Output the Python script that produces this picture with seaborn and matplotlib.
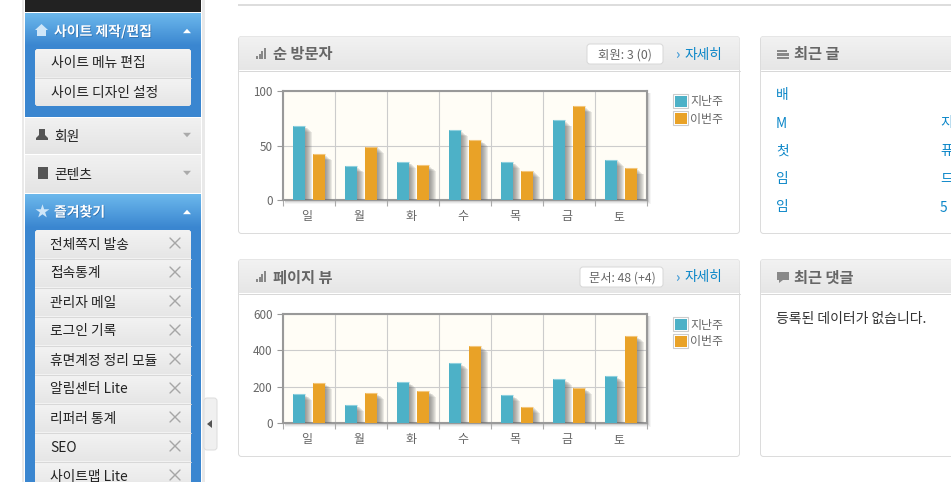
import numpy as np
import pandas as pd
import matplotlib
matplotlib.use('Agg')
import matplotlib.pyplot as plt
import matplotlib.patheffects as pe
from matplotlib.patches import Rectangle, FancyBboxPatch, Polygon
from matplotlib.transforms import ScaledTranslation
import seaborn as sns

days = ['일', '월', '화', '수', '목', '금', '토']
series_names = ['지난주', '이번주']
visitors_last = [68, 31, 35, 64, 35, 73, 37]
visitors_this = [42, 49, 32, 55, 27, 86, 29]
views_last = [160, 100, 226, 330, 154, 242, 259]
views_this = [220, 165, 176, 424, 90, 193, 479]
visitors_ticks = [0, 50, 100]
views_ticks = [0, 200, 400, 600]

site_menu = ['사이트 메뉴 편집', '사이트 디자인 설정']
favorites = ['전체쪽지 발송', '접속통계', '관리자 메일', '로그인 기록', '휴면계정 정리 모듈',
             '알림센터 Lite', '리퍼러 통계', 'SEO', '사이트맵 Lite']
recent_left = ['배', 'M', '첫', '임', '임']
recent_right = ['', '지', '퓨', '드', '5']

sns.set_theme(style='white')
plt.rcParams['font.family'] = ['Noto Sans CJK KR', 'DejaVu Sans']

W, H = 951, 482
fig = plt.figure(figsize=(W / 100, H / 100), dpi=100, facecolor='white')
page = fig.add_axes([0, 0, 1, 1])
page.set_xlim(0, W)
page.set_ylim(H, 0)
page.axis('off')

BLUE = '#3a86d0'
LINK = '#0a86c8'
GREY_TEXT = '#666666'
colors = {'지난주': '#4db1c7', '이번주': '#e9a227'}
tops = {'지난주': '#8fd0de', '이번주': '#f3c67a'}


def grad(x0, y0, x1, y1, top, bottom, clip=None, z=1):
    c0 = np.array(matplotlib.colors.to_rgb(top))
    c1 = np.array(matplotlib.colors.to_rgb(bottom))
    t = np.linspace(0, 1, 64)[:, None, None]
    img = c0[None, None, :] * (1 - t) + c1[None, None, :] * t
    im = page.imshow(img, extent=[x0, x1, y1, y0], aspect='auto', zorder=z, interpolation='bilinear')
    if clip is not None:
        im.set_clip_path(clip)
    page.set_xlim(0, W)
    page.set_ylim(H, 0)


def box(x0, y0, x1, y1, fc='white', ec='none', r=3, lw=0.72, z=1):
    p = FancyBboxPatch((x0 + r, y0 + r), x1 - x0 - 2 * r, y1 - y0 - 2 * r,
                       boxstyle='round,pad=%d,rounding_size=%d' % (r, r),
                       fc=fc, ec=ec, lw=lw, zorder=z, mutation_aspect=1)
    page.add_patch(p)
    return p


def txt(x, y, s, size=9.9, color='#222222', weight='normal', ha='left', z=6, shadow=None):
    t = page.text(x, y, s, fontsize=size, color=color, fontweight=weight, ha=ha, va='center_baseline', zorder=z)
    if shadow:
        t.set_path_effects([pe.withSimplePatchShadow(offset=(0.5, -0.5), shadow_rgbFace=shadow, alpha=1)])
    return t


def cross(x, y, r=5, color='#a6a6a6'):
    page.plot([x - r, x + r], [y - r, y + r], color=color, lw=1, zorder=6)
    page.plot([x - r, x + r], [y + r, y - r], color=color, lw=1, zorder=6)


def caret(x, y, up=True, color='white'):
    d = -4.4 if up else 4.4
    page.add_patch(Polygon([(x - 4, y - d / 2), (x + 4, y - d / 2), (x, y + d / 2)], fc=color, ec='none', zorder=6))


def bars_icon(x, y):
    for i, h in enumerate([3, 5, 8, 11]):
        page.add_patch(Rectangle((x + i * 2.7, y - h), 1.8, h, fc='#888888', ec='none', zorder=6))


# sidebar
page.add_patch(Rectangle((22, 0), 183, H, fc='#e9e9e9', ec='none', zorder=0))
page.add_patch(Rectangle((24, 0), 178, H, fc='white', ec='none', zorder=0))
page.add_patch(Rectangle((25, 0), 176, 12, fc='#222222', ec='none', zorder=1))

page.add_patch(Rectangle((25, 13), 176, 104, fc=BLUE, ec='none', zorder=1))
grad(25, 13, 201, 46, '#6cb8ec', BLUE, z=1.5)
txt(54, 30, '사이트 제작/편집', size=10, color='white', weight='bold', shadow='#2a6aa8')
page.add_patch(Polygon([(35, 30), (41.5, 24), (48, 30), (46, 30), (46, 36), (37, 36), (37, 30)], fc='#cfe6f8', ec='none', zorder=6))
caret(187, 31)

clip = box(35, 49, 191, 106, fc='#eeeeee', z=2)
grad(35, 49, 191, 77, '#f3f3f3', '#e6e6e6', clip=clip, z=3)
grad(35, 78, 191, 106, '#f3f3f3', '#e6e6e6', clip=clip, z=3)
page.plot([35, 191], [77.5, 77.5], color='#d8d8d8', lw=0.72, zorder=4)
for i, label in enumerate(site_menu):
    txt(51, 62 + i * 29, label)

grad(25, 118, 201, 154, '#f1f1f1', '#e4e4e4')
grad(25, 155, 201, 193, '#f1f1f1', '#e4e4e4')
page.add_patch(Polygon([(39, 129), (45, 129), (45, 135), (48, 138), (48, 140), (36, 140), (36, 138), (39, 135)], fc='#555555', ec='none', zorder=6))
page.add_patch(Rectangle((37.5, 167), 10, 12, fc='#555555', ec='none', zorder=6))
txt(54, 135, '회원')
txt(54, 173, '콘텐츠')
caret(187, 135, up=False, color='#aaaaaa')
caret(187, 173, up=False, color='#aaaaaa')

page.add_patch(Rectangle((25, 194), 176, H - 194, fc=BLUE, ec='none', zorder=1))
grad(25, 194, 201, 228, '#6cb8ec', BLUE, z=1.5)
page.scatter([42], [211], marker='*', s=110, color='#cfe6f8', linewidths=0, zorder=6)
txt(54, 211, '즐겨찾기', size=10, color='white', weight='bold', shadow='#2a6aa8')
caret(187, 212)

clip = box(35, 230, 191, H + 10, fc='#eeeeee', z=2)
for i, label in enumerate(favorites):
    y0 = 229 + i * 29
    grad(35, y0, 191, y0 + 29, '#f3f3f3', '#e6e6e6', clip=clip, z=3)
    page.plot([35, 191], [y0 + 29.5, y0 + 29.5], color='#d8d8d8', lw=0.72, zorder=4)
    txt(50, y0 + 14, label)
    cross(175, y0 + 14)

box(204, 398, 217, 450, fc='#f0f0f0', ec='#dddddd', z=1)
page.add_patch(Polygon([(207, 424), (212, 420), (212, 428)], fc='#555555', ec='none', zorder=6))

page.add_patch(Rectangle((238, 4), W - 238, 2, fc='#dddddd', ec='none', zorder=1))


def panel(x0, y0, x1, y1):
    clip = box(x0, y0, x1, y1, fc='white', ec='#dcdcdc', r=3, z=1)
    grad(x0, y0, x1, y0 + 34, '#f2f2f2', '#e6e6e6', clip=clip, z=2)
    page.plot([x0, x1], [y0 + 34, y0 + 34], color='#d8d8d8', lw=0.72, zorder=3)


def draw_chart(top, last, this, ticks, ymax):
    panel(238.5, top - 0.5, 739.5, top + 196.5)
    x0, x1 = 283, 647
    y0, y1 = top + 54, top + 163
    # frame shadow
    for i, a in enumerate([0.3, 0.2, 0.12, 0.08]):
        page.add_patch(Rectangle((x0 + 2, y0 + 2), x1 - x0 - 1 + i, y1 - y0 - 1 + i, fc='#888888', ec='none', alpha=a, zorder=4))

    ax = fig.add_axes([x0 / W, 1 - y1 / H, (x1 - x0) / W, (y1 - y0) / H], zorder=5)
    df = pd.DataFrame({
        'day': days * 2,
        'week': [series_names[0]] * 7 + [series_names[1]] * 7,
        'value': last + this,
    })
    sns.barplot(data=df, x='day', y='value', hue='week', order=days, palette=colors, saturation=1,
                width=0.77, gap=0.4, legend=False, ax=ax, zorder=3)
    # soft shadow behind the bars, far layer first
    layers = [pe.SimplePatchShadow(offset=(n * 0.72, -n * 0.62), shadow_rgbFace='#666666', alpha=0.13)
              for n in range(7, 0, -1)]
    for bar in ax.patches:
        bar.set_linewidth(0)
        bar.set_path_effects(layers + [pe.Normal()])
    for container, name in zip(ax.containers, series_names):
        for bar in container:
            ax.plot([bar.get_x(), bar.get_x() + bar.get_width()], [bar.get_height()] * 2,
                    color=tops[name], lw=0.8, solid_capstyle='butt', zorder=4)
    ax.set_xlim(-0.5, 6.5)
    ax.set_ylim(0, ymax)
    ax.set_facecolor('#fffdf6')
    ax.set_xlabel('')
    ax.set_ylabel('')
    ax.set_yticks(ticks)
    ax.set_xticks(np.arange(-0.5, 7, 1))
    ax.set_xticklabels([])
    ax.set_xticks(range(7), days, minor=True)
    ax.grid(True, which='major', color='#cccccc', lw=0.8, zorder=1)
    ax.set_axisbelow(True)
    ax.tick_params(axis='y', which='major', left=True, length=4.5, width=0.8, color='#999999', labelsize=8.4, labelcolor=GREY_TEXT, pad=3)
    ax.tick_params(axis='x', which='major', bottom=True, length=4, width=0.8, color='#aaaaaa')
    ax.tick_params(axis='x', which='minor', bottom=False, length=0, labelsize=8.6, labelcolor=GREY_TEXT, pad=7.2)
    shift = ScaledTranslation(-2 / 100, 0, fig.dpi_scale_trans)
    for lab in ax.get_xticklabels(minor=True):
        lab.set_transform(lab.get_transform() + shift)
    for s in ax.spines.values():
        s.set_visible(True)
        s.set_color('#999999')
        s.set_linewidth(1.5)

    # legend
    for i, name in enumerate(series_names):
        ly = top + 57 + i * 17
        page.add_patch(Rectangle((673, ly), 15, 14, fc='white', ec='#cccccc', lw=0.8, zorder=4))
        page.add_patch(Rectangle((674.5, ly + 1.5), 12, 11, fc=colors[name], ec='none', zorder=5))
        txt(690, ly + 6.5, name, size=8.6, color=GREY_TEXT)
    txt(675, top + 16, '›', size=9.5, color='#4a9fd8', weight='bold')
    txt(685, top + 16, '자세히', size=9.9, color=LINK)
    bars_icon(256, top + 22)


draw_chart(37, visitors_last, visitors_this, visitors_ticks, 100)
txt(273, 53, '순 방문자', size=11, color=GREY_TEXT, weight='bold')
box(587, 44, 663, 64, fc='white', ec='#d8d8d8', z=4)
txt(625, 54, '회원: 3 (0)', size=8.9, color=GREY_TEXT, ha='center')

draw_chart(260, views_last, views_this, views_ticks, 600)
txt(273, 276, '페이지 뷰', size=11, color=GREY_TEXT, weight='bold')
box(580, 267, 663, 287, fc='white', ec='#d8d8d8', z=4)
txt(622, 277, '문서: 48 (+4)', size=8.8, color=GREY_TEXT, ha='center')

# right column panels
panel(760.5, 36.5, W + 10, 233.5)
panel(760.5, 259.5, W + 10, 456.5)
txt(794, 53, '최근 글', size=11, color=GREY_TEXT, weight='bold')
txt(794, 276, '최근 댓글', size=11, color=GREY_TEXT, weight='bold')
for i in range(3):
    page.add_patch(Rectangle((777, 49.5 + i * 3.6), 12 - (i == 0) * 2, 2.4, fc='#888888', ec='none', zorder=6))
page.add_patch(Rectangle((777, 272), 12, 8, fc='#888888', ec='none', zorder=6))
page.add_patch(Polygon([(779, 280), (783, 280), (779, 283)], fc='#888888', ec='none', zorder=6))
for i, (a, b) in enumerate(zip(recent_left, recent_right)):
    txt(776, 94 + i * 28, a, color=LINK)
    txt(940, 94 + i * 28, b, color=LINK)
txt(776, 317, '등록된 데이터가 없습니다.', size=10, color='#333333')

fig.savefig('out.png', dpi=100)
